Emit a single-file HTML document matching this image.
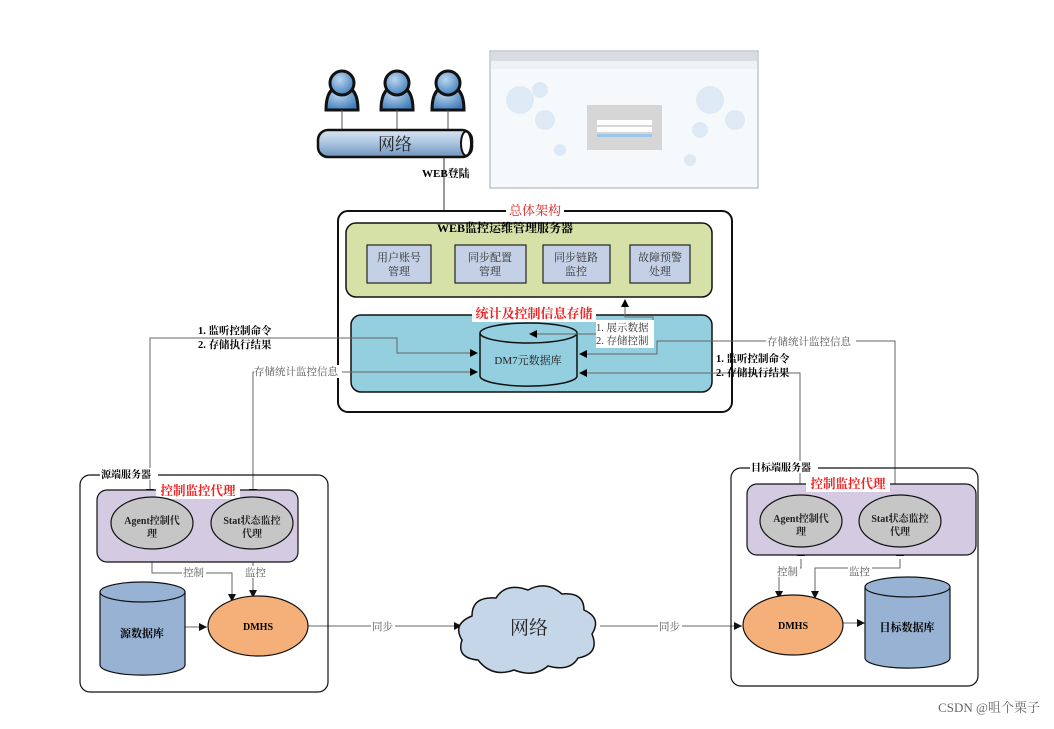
<!DOCTYPE html>
<html><head><meta charset="utf-8"><style>
body{margin:0;background:#fff}
svg text{font-family:"Liberation Serif","Noto Serif CJK SC","Noto Sans CJK SC",serif}
</style></head><body>
<svg width="1054" height="724" viewBox="0 0 1054 724" xmlns="http://www.w3.org/2000/svg">
<defs>
<marker id="a" markerWidth="8" markerHeight="8" refX="7" refY="4" orient="auto" markerUnits="userSpaceOnUse"><path d="M0,0L8,4L0,8z" fill="#000"/></marker>
<linearGradient id="pipe" x1="0" y1="0" x2="0" y2="1"><stop offset="0" stop-color="#dbe6f2"/><stop offset="0.5" stop-color="#a8c3df"/><stop offset="1" stop-color="#6f93bd"/></linearGradient>
<radialGradient id="usr" cx="0.4" cy="0.35" r="0.7"><stop offset="0" stop-color="#bcd7f0"/><stop offset="1" stop-color="#3f7cba"/></radialGradient>
</defs>
<g font-size="11">
<g stroke="#111" stroke-width="3" fill="url(#usr)">
<path d="M326,110 q0,-24 16,-24 q16,0 16,24z"/><circle cx="342" cy="83" r="12"/>
<path d="M381,110 q0,-24 16,-24 q16,0 16,24z"/><circle cx="397" cy="83" r="12"/>
<path d="M432,110 q0,-24 16,-24 q16,0 16,24z"/><circle cx="448" cy="83" r="12"/>
</g>
<g stroke="#555" stroke-width="1"><line x1="342" y1="110" x2="342" y2="131"/><line x1="397" y1="110" x2="397" y2="131"/><line x1="448" y1="110" x2="448" y2="131"/></g>
<rect x="318" y="130" width="154" height="27" rx="10" fill="url(#pipe)" stroke="#111" stroke-width="2.5"/>
<ellipse cx="466" cy="143.5" rx="5" ry="12" fill="#fff" stroke="#111" stroke-width="2"/>
<text x="395" y="150" font-size="17" text-anchor="middle" fill="#222" font-family="Liberation Sans,Noto Sans CJK SC,sans-serif">网络</text>
<line x1="444" y1="157" x2="444" y2="212" stroke="#333"/>
<text x="422" y="177" font-size="11" font-weight="bold">WEB登陆</text>
<rect x="490" y="51" width="268" height="137" fill="#f6f9fc" stroke="#999"/>
<rect x="491" y="52" width="266" height="9" fill="#d9dde3"/>
<rect x="491" y="61" width="266" height="8" fill="#eef1f5"/>
<g fill="#d8e7f4" opacity="0.8"><circle cx="520" cy="100" r="14"/><circle cx="545" cy="120" r="10"/><circle cx="540" cy="90" r="8"/><circle cx="710" cy="100" r="14"/><circle cx="735" cy="120" r="10"/><circle cx="700" cy="130" r="8"/><circle cx="560" cy="150" r="6"/><circle cx="690" cy="160" r="6"/></g>
<rect x="587" y="105" width="75" height="45" fill="#d6d6d6"/>
<rect x="597" y="120" width="55" height="5" fill="#fff"/><rect x="597" y="127" width="55" height="5" fill="#fff"/><rect x="597" y="134" width="55" height="3" fill="#9cc6ea"/>
<rect x="490" y="51" width="268" height="137" fill="none" stroke="#aaa"/>
<rect x="338" y="211" width="394" height="201" rx="10" fill="#fff" stroke="#111" stroke-width="2"/>
<rect x="506" y="203" width="58" height="14" fill="#fff"/>
<text x="535" y="215" font-size="13" fill="#d22" text-anchor="middle">总体架构</text>
<rect x="346" y="223" width="366" height="74" rx="10" fill="#d6e1a8" stroke="#111" stroke-width="1.5"/>
<text x="505" y="232" font-size="12" font-weight="bold" text-anchor="middle">WEB监控运维管理服务器</text>
<g fill="#c3d0e5" stroke="#222" stroke-width="1.2">
<rect x="367" y="245" width="64" height="38"/><rect x="455" y="245" width="71" height="38"/><rect x="543" y="245" width="67" height="38"/><rect x="630" y="245" width="60" height="38"/></g>
<g font-size="11" fill="#333" text-anchor="middle">
<text x="399" y="261">用户账号</text><text x="399" y="275">管理</text>
<text x="490" y="261">同步配置</text><text x="490" y="275">管理</text>
<text x="576" y="261">同步链路</text><text x="576" y="275">监控</text>
<text x="660" y="261">故障预警</text><text x="660" y="275">处理</text></g>
<rect x="351" y="315" width="361" height="77" rx="10" fill="#94cfdf" stroke="#111" stroke-width="1.5"/>
<rect x="472" y="306" width="124" height="16" fill="#fff"/>
<text x="534" y="318" font-size="13" font-weight="bold" fill="#e22" text-anchor="middle">统计及控制信息存储</text>
<path d="M480,333 L480,376 A48,10 0 0 0 577,376 L577,333" fill="#94cfdf" stroke="#111" stroke-width="1.5"/>
<ellipse cx="528.5" cy="333" rx="48.5" ry="10" fill="#94cfdf" stroke="#111" stroke-width="1.5"/>
<text x="528" y="364" font-size="11" text-anchor="middle" fill="#222">DM7元数据库</text>
<g fill="none" stroke="#666" stroke-width="1">
<path d="M653,334 L653,317 L625,317 L625,300" marker-end="url(#a)"/>
<path d="M653,334 L530,334" marker-end="url(#a)"/>
<path d="M150,497 L150,338 L397,338 L397,353 L477,353" marker-end="url(#a)"/>
<path d="M253,497 L253,372 L477,372" marker-end="url(#a)"/>
<path d="M895,497 L895,341 L657,341 L657,354 L580,354" marker-end="url(#a)"/>
<path d="M800,497 L800,373 L580,373" marker-end="url(#a)"/>
<path d="M152,560 L152,573 L232,573 L232,600"/>
<path d="M253,558 L253,597"/>
<path d="M801,559 L801,568 L779,568 L779,598"/>
<path d="M900,559 L900,568 L815,568 L815,598"/>
<path d="M185,627 L207,627"/><path d="M307,626 L462,626"/><path d="M600,626 L742,626"/><path d="M842,623 L865,623"/>
</g>
<path d="M150,497 l-4,-8 8,0z M253,497 l-4,-8 8,0z M895,497 l-4,-8 8,0z M800,497 l-4,-8 8,0z M152,550 l-4,8 8,0z M253,550 l-4,8 8,0z M232,602 l-4,-8 8,0z M253,598 l-4,-8 8,0z M801,548 l-4,8 8,0z M900,548 l-4,8 8,0z M779,599 l-4,-8 8,0z M815,599 l-4,-8 8,0z M207,627 l-8,-4 0,8z M462,626 l-8,-4 0,8z M742,626 l-8,-4 0,8z M865,623 l-8,-4 0,8z" fill="#111"/>
<g font-size="10.5">
<rect x="596" y="320" width="58" height="28" fill="#fff"/>
<text x="596" y="331" fill="#333">1. 展示数据</text><text x="596" y="344" fill="#333">2. 存储控制</text>
<text x="198" y="334" font-weight="bold">1. 监听控制命令</text><text x="198" y="348" font-weight="bold">2. 存储执行结果</text>
<rect x="254" y="365" width="88" height="13" fill="#fff"/><text x="254" y="375" fill="#555">存储统计监控信息</text>
<rect x="766" y="335" width="90" height="13" fill="#fff"/><text x="767" y="345" fill="#555">存储统计监控信息</text>
<text x="716" y="362" font-weight="bold">1. 监听控制命令</text><text x="716" y="376" font-weight="bold">2. 存储执行结果</text>
</g>
<rect x="80" y="475" width="248" height="217" rx="10" fill="none" stroke="#111" stroke-width="1.2"/>
<rect x="100" y="468" width="58" height="12" fill="#fff"/><text x="101" y="478" font-size="10" font-weight="bold">源端服务器</text>
<rect x="97" y="490" width="201" height="72" rx="10" fill="#d4cbe2" stroke="#111" stroke-width="1.2"/>
<rect x="156" y="483" width="84" height="16" fill="#fff"/><text x="198" y="495" font-size="12.5" font-weight="bold" fill="#e22" text-anchor="middle">控制监控代理</text>
<ellipse cx="152" cy="523" rx="41" ry="26" fill="#c6c6c6" stroke="#111" stroke-width="1.2"/>
<ellipse cx="252" cy="523" rx="41" ry="26" fill="#c6c6c6" stroke="#111" stroke-width="1.2"/>
<g font-size="10" text-anchor="middle" font-weight="bold" fill="#222">
<text x="152" y="524">Agent控制代</text><text x="152" y="537">理</text>
<text x="252" y="524">Stat状态监控</text><text x="252" y="537">代理</text></g>
<rect x="182" y="566" width="24" height="12" fill="#fff"/><text x="183" y="576" font-size="10.5" fill="#555">控制</text>
<rect x="244" y="566" width="24" height="12" fill="#fff"/><text x="245" y="576" font-size="10.5" fill="#555">监控</text>
<path d="M100,592 L100,665 A42,10 0 0 0 185,665 L185,592" fill="#97b2d3" stroke="#111" stroke-width="1.2"/>
<ellipse cx="142.5" cy="592" rx="42.5" ry="10" fill="#97b2d3" stroke="#111" stroke-width="1.2"/>
<text x="142" y="637" font-size="11" font-weight="bold" text-anchor="middle">源数据库</text>
<ellipse cx="258" cy="626" rx="50" ry="30" fill="#f5b07a" stroke="#111" stroke-width="1.2"/>
<text x="258" y="630" font-size="10" font-weight="bold" text-anchor="middle">DMHS</text>
<rect x="371" y="620" width="24" height="12" fill="#fff"/><text x="372" y="630" font-size="10.5" fill="#555">同步</text>
<rect x="658" y="620" width="24" height="12" fill="#fff"/><text x="659" y="630" font-size="10.5" fill="#555">同步</text>
<path d="M478,660 q-22,-2 -16,-20 q-10,-16 10,-24 q0,-20 24,-18 q10,-16 32,-8 q18,-10 34,4 q22,-2 22,16 q18,8 8,24 q8,20 -14,24 q-8,14 -30,8 q-14,12 -34,4 q-22,8 -36,-10z" fill="#c6d6e9" stroke="#111" stroke-width="1.5"/>
<text x="529" y="634" font-size="19" text-anchor="middle" fill="#222" font-family="Liberation Sans,Noto Sans CJK SC,sans-serif">网络</text>
<rect x="731" y="468" width="247" height="218" rx="10" fill="none" stroke="#111" stroke-width="1.2"/>
<rect x="750" y="461" width="68" height="12" fill="#fff"/><text x="751" y="471" font-size="10" font-weight="bold">目标端服务器</text>
<rect x="747" y="484" width="229" height="71" rx="10" fill="#d4cbe2" stroke="#111" stroke-width="1.2"/>
<rect x="806" y="476" width="84" height="16" fill="#fff"/><text x="848" y="488" font-size="12.5" font-weight="bold" fill="#e22" text-anchor="middle">控制监控代理</text>
<ellipse cx="801" cy="521" rx="41" ry="26" fill="#c6c6c6" stroke="#111" stroke-width="1.2"/>
<ellipse cx="900" cy="521" rx="41" ry="26" fill="#c6c6c6" stroke="#111" stroke-width="1.2"/>
<g font-size="10" text-anchor="middle" font-weight="bold" fill="#222">
<text x="801" y="522">Agent控制代</text><text x="801" y="535">理</text>
<text x="900" y="522">Stat状态监控</text><text x="900" y="535">代理</text></g>
<rect x="776" y="565" width="24" height="12" fill="#fff"/><text x="777" y="575" font-size="10.5" fill="#555">控制</text>
<rect x="848" y="565" width="24" height="12" fill="#fff"/><text x="849" y="575" font-size="10.5" fill="#555">监控</text>
<ellipse cx="793" cy="625" rx="50" ry="30" fill="#f5b07a" stroke="#111" stroke-width="1.2"/>
<text x="793" y="629" font-size="10" font-weight="bold" text-anchor="middle">DMHS</text>
<path d="M865,587 L865,658 A42,10 0 0 0 950,658 L950,587" fill="#97b2d3" stroke="#111" stroke-width="1.2"/>
<ellipse cx="907.5" cy="587" rx="42.5" ry="10" fill="#97b2d3" stroke="#111" stroke-width="1.2"/>
<text x="907" y="631" font-size="11" font-weight="bold" text-anchor="middle">目标数据库</text>
<text x="1040" y="712" font-size="13" fill="#666" text-anchor="end" font-family="Liberation Sans,Noto Sans CJK SC,sans-serif">CSDN @咀个栗子</text>
</g>
</svg>
</body></html>
